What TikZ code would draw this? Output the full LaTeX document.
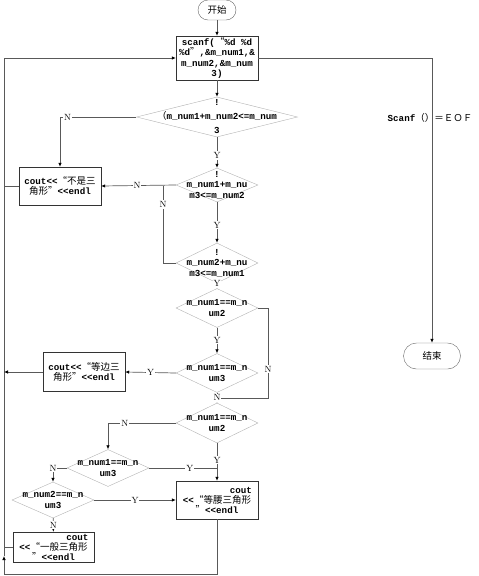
\documentclass[tikz,border=0pt]{standalone}
\usepackage{fontspec}
\setmonofont{Liberation Mono}
\newfontfamily\cjk{Noto Sans CJK SC}
\usetikzlibrary{shapes.geometric,arrows.meta}

\newcommand\zh[1]{{\cjk\mdseries\fontsize{9.5}{10}\selectfont #1}}

\begin{document}
\begin{tikzpicture}[x=1pt, y=-1pt,
  code/.style={font=\ttfamily\bfseries\fontsize{9.2}{10.5}\selectfont},
  term/.style={draw=gray!80!black, rounded corners=10pt, font=\cjk\fontsize{9.5}{10}\selectfont, inner sep=0pt},
  proc/.style={draw=gray!40!black, code, align=center, inner sep=1pt, minimum width=82pt},
  dec/.style={diamond, draw=gray!60, inner sep=0pt, minimum width=82pt, minimum height=39pt},
  dtxt/.style={code, align=center, inner sep=0pt},
  lbl/.style={fill=white, inner sep=1pt, font=\fontsize{9}{9}\selectfont},
  line/.style={draw=gray!70!black, line width=0.7pt},
  arr/.style={line, -{Latex[length=4pt,width=3.5pt,color=black]}}
]
\useasboundingbox (0,0) rectangle (479,576);

% start and input
\node[term, minimum width=38pt, minimum height=20pt] (start) at (217,10) {开始};
\node[proc, minimum height=44pt] (scan) at (217,58)
  {scanf(\zh{“}\%d \%d\\\%d\zh{”},\&m\_num1,\&\\m\_num2,\&m\_num\\3)};
\node[term, minimum width=57pt, minimum height=26pt, rounded corners=13pt] (stop) at (432,356) {结束};
\node[code] (eof) at (430,118) {Scanf\zh{（）＝ＥＯＦ}};

% triangle tests
\node[dec, minimum width=161pt, minimum height=40pt,
  label={[dtxt, font=\ttfamily\bfseries\fontsize{9.2}{14}\selectfont]center:{!\\\zh{（}m\_num1+m\_num2<=m\_num\\3}}] (d1) at (217,117) {};
\node[dec, minimum height=34pt, label={[dtxt]center:{!\\m\_num1+m\_nu\\m3<=m\_num2}}] (d2) at (217,185) {};
\node[dec, minimum height=40pt, label={[dtxt]center:{!\\m\_num2+m\_nu\\m3<=m\_num1}}] (d3) at (217,263) {};
\node[proc, minimum height=38pt] (bs) at (60,186) {cout<<\zh{“不是三}\\\zh{角形”}<<endl};

% equilateral
\node[dec, label={[dtxt]center:{m\_num1==m\_n\\um2}}] (d4) at (217,308) {};
\node[dec, label={[dtxt]center:{m\_num1==m\_n\\um3}}] (d5) at (217,373) {};
\node[proc, minimum height=39pt] (db) at (84,372) {cout<<\zh{“等边三}\\\zh{角形”}<<endl};

% isosceles or general
\node[dec, minimum height=40pt, label={[dtxt]center:{m\_num1==m\_n\\um2}}] (d6) at (217,423) {};
\node[dec, minimum height=37pt, label={[dtxt]center:{m\_num1==m\_n\\um3}}] (d7) at (108,468) {};
\node[dec, minimum height=36pt, label={[dtxt]center:{m\_num2==m\_n\\um3}}] (d8) at (53,500) {};
\node[proc, minimum height=38pt, font=\ttfamily\bfseries\fontsize{9.2}{10}\selectfont] (dy) at (217,500)
  {\makebox[70pt][r]{cout}\\<<\zh{“等腰三角形}\\\zh{”}<<endl};
\node[proc, minimum width=81pt, minimum height=30pt, inner sep=0pt, font=\ttfamily\bfseries\fontsize{9.2}{10}\selectfont] (yb) at (53.5,547)
  {\makebox[70pt][r]{cout}\\<<\zh{“一般三角形}\\\zh{”}<<endl};

\coordinate (n3) at (163,186);
\coordinate (m6) at (217,398);
\coordinate (j7) at (217,468);
\coordinate (lb) at (4,574);
\coordinate (lp) at (4,556);

\draw[arr] (start) -- (scan);
\draw[arr] (scan) -- (d1);
\draw[arr] (scan.east) -| (stop.north);
\draw[arr] (d1.west) -| node[lbl, pos=0.45]{N} (bs.north);
\draw[arr] (d1) -- node[lbl, pos=0.6]{Y} (d2);
\draw[arr] (d2.west) -- node[lbl, pos=0.52]{N} (bs.east);
\draw[line] (d3.west) -| node[lbl, pos=0.88]{N} (n3);
\draw[arr] (d2) -- node[lbl, pos=0.56]{Y} (d3);
\draw[arr] (d3) -- node[lbl, pos=0.1]{Y} (d4);
\draw[line] (d4.east) -- ++(10,0) |- node[lbl, pos=0.34]{N} (m6);
\draw[arr] (d4) -- node[lbl, pos=0.48]{Y} (d5);
\draw[arr] (d5.west) -- node[lbl]{Y} (db.east);
\draw[arr] (d5) -- node[lbl]{N} (d6);
\draw[arr] (d6.west) -| node[lbl, pos=0.375]{N} (d7.north);
\draw[arr] (d6) -- node[lbl, pos=0.45]{Y} (dy);
\draw[line] (d7.east) -- node[lbl, pos=0.6]{Y} (j7);
\draw[arr] (d7.west) -| node[lbl]{N} (d8.north);
\draw[arr] (d8.east) -- node[lbl]{Y} (dy.west);
\draw[arr] (d8) -- node[lbl]{N} (yb);

% back to input
\draw[arr] (dy.south) |- (lb) -- (lp);
\draw[arr] (lp) |- (scan.west);
\draw[line] (bs.west) -- (bs.west -| lp);
\draw[line] (yb.west) -- (yb.west -| lp);
\draw[arr] (db.west) -- (db.west -| lp);
\end{tikzpicture}
\end{document}
